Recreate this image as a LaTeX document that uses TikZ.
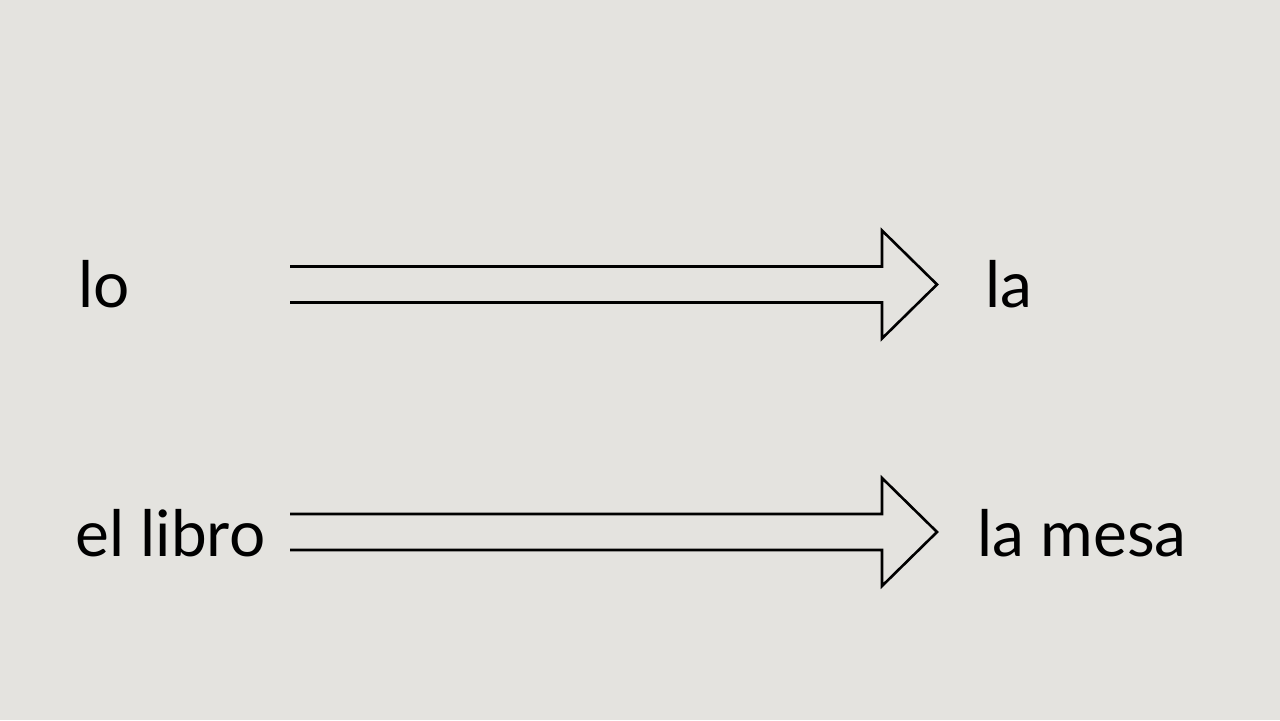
\documentclass[tikz,border=0pt]{standalone}
\usepackage{fontspec}
\setmainfont{Lato}
\usetikzlibrary{calc}
\definecolor{paper}{RGB}{228,227,223}

\begin{document}
\begin{tikzpicture}
  [x=0.5pt,y=0.5pt,
   every node/.style={anchor=base west,inner sep=0pt,font=\fontsize{32}{38}\selectfont},
   hollow arrow/.style={draw,line width=1.3pt,line join=miter,
     to path={($(\tikztostart)+(0,18)$) -- ($(\tikztotarget)+(-55,18)$)
       -- ($(\tikztotarget)+(-55,54)$) -- (\tikztotarget)
       -- ($(\tikztotarget)+(-55,-54)$) -- ($(\tikztotarget)+(-55,-18)$)
       -- ($(\tikztostart)+(0,-18)$)}}]
  \fill[paper] (0,0) rectangle (1280,720);
  \useasboundingbox (0,0) rectangle (1280,720);
  % pronouns
  \node (lo) at (78,413) {lo};
  \node (la) at (985,413) {la};
  \coordinate (lo start) at (290,435.5);
  \coordinate (la tip) at (937,435.5);
  \draw[hollow arrow] (lo start) to (la tip);
  % nouns
  \node (libro) at (75,164) {el libro};
  \node (mesa) at (977,164) {la mesa};
  \coordinate (libro start) at (290,188);
  \coordinate (mesa tip) at (937,188);
  \draw[hollow arrow] (libro start) to (mesa tip);
\end{tikzpicture}
\end{document}
